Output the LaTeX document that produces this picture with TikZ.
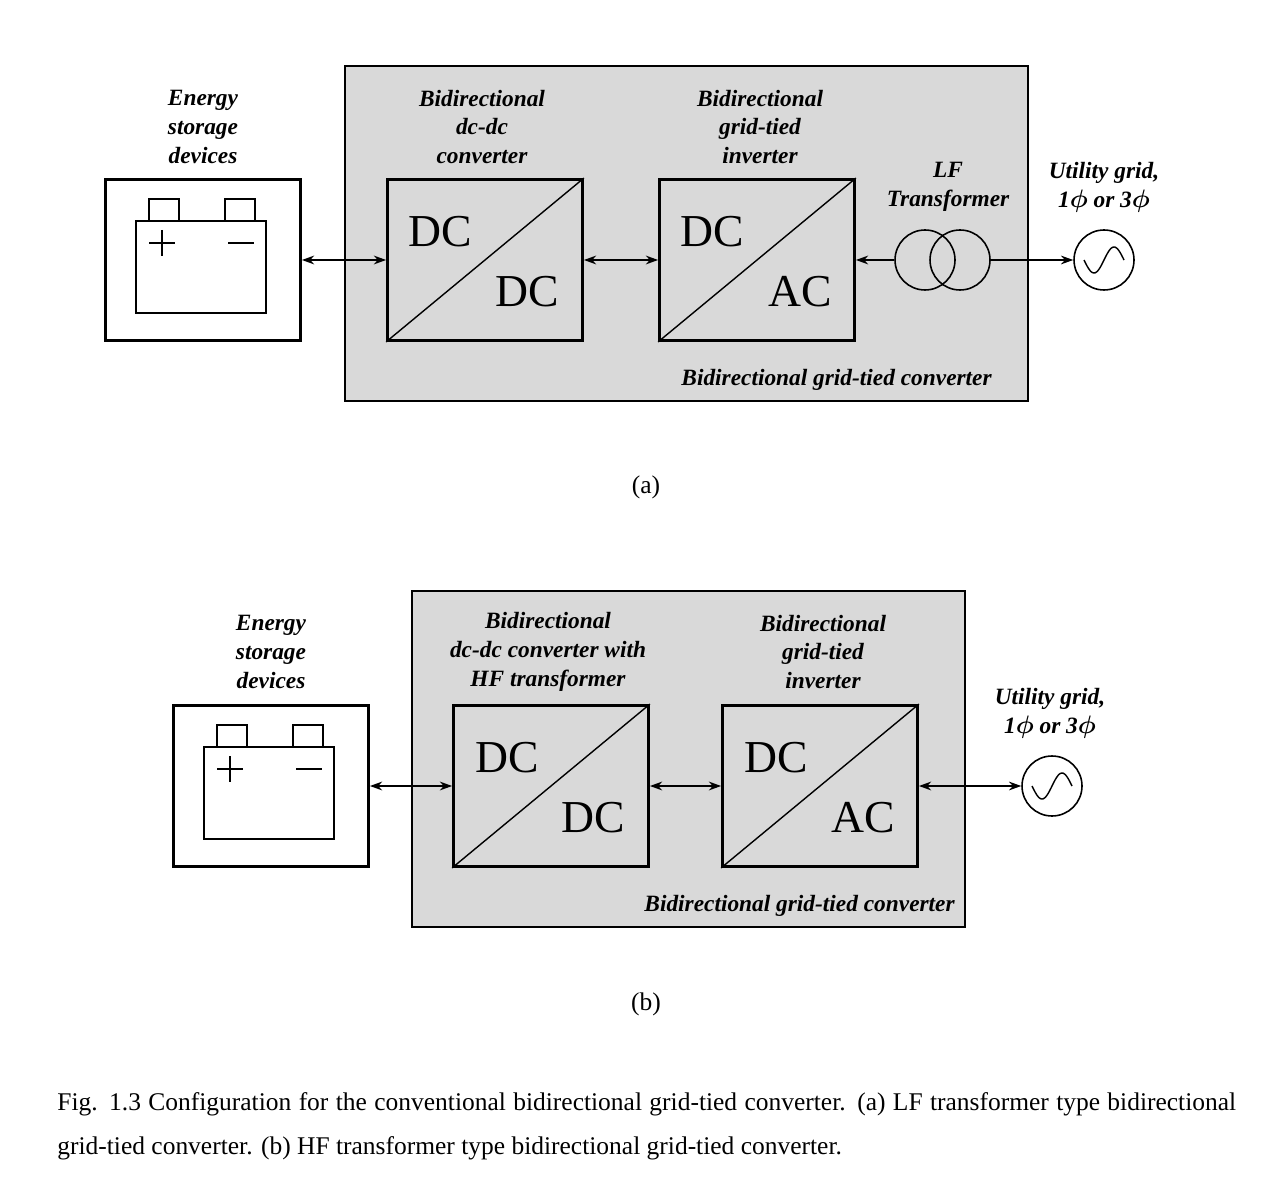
\documentclass[tikz,border=0pt]{standalone}
\usepackage{fontspec}
\setmainfont{Liberation Serif}
\usetikzlibrary{arrows.meta}

\tikzset{
  blk/.style={draw, line width=1.6pt, minimum width=3.9cm, minimum height=3.22cm, inner sep=0pt},
  lbl/.style={align=center, font=\bfseries\itshape\boldmath\fontsize{13.3}{16.4}\selectfont, inner sep=0pt},
  big/.style={font=\fontsize{26}{28}\selectfont, inner sep=0pt},
  link/.style={line width=0.8pt, {Stealth[length=7pt,width=5pt]}-{Stealth[length=7pt,width=5pt]}},
  one/.style={line width=0.8pt, -{Stealth[length=7pt,width=5pt]}},
  ring/.style={draw, circle, line width=0.9pt, minimum size=1.2cm, inner sep=0pt},
  bay/.style={fill=gray!30, draw, line width=1pt}
}

\newcommand{\batt}[2]{% centre of outer box
  \begin{scope}[shift={(#1,#2)}]
    \draw[line width=1.6pt] (-67,-39) rectangle (63,53);
    \draw[line width=1.6pt] (-54,-61) rectangle (-24,-39);
    \draw[line width=1.6pt] (22,-61) rectangle (52,-39);
    \draw[line width=0.9pt] (-54,-17) -- (-28,-17) (-41,-30) -- (-41,-4);
    \draw[line width=0.9pt] (25,-17) -- (51,-17);
  \end{scope}}
\newcommand{\wave}[2]{%
  \draw[line width=0.8pt] plot[domain=-20:20, samples=41] ({#1+\x},{#2-13*sin(\x*9)});}

\begin{document}
\begin{tikzpicture}[x=0.02cm, y=-0.02cm]
\useasboundingbox (0,0) rectangle (1280,1195);

% (a) LF transformer type
\draw[bay] (345,66) rectangle (1028,401);
\node[blk] (esA) at (203,260) {};
\batt{203}{260}
\node[blk] (dcA) at (485,260) {};
\node[blk] (inA) at (757,260) {};
\draw[line width=0.8pt] (dcA.south west) -- (dcA.north east);
\draw[line width=0.8pt] (inA.south west) -- (inA.north east);
\node[big] at (440,232) {DC};
\node[big] at (527,292) {DC};
\node[big] at (712,232) {DC};
\node[big] at (800,292) {AC};
\node[ring] (t1) at (925,260) {};
\node[ring] (t2) at (960,260) {};
\node[ring] (srcA) at (1104,260) {};
\wave{1104}{260}
\draw[link] (esA.east) -- (dcA.west);
\draw[link] (dcA.east) -- (inA.west);
\draw[one] (t1.west) -- (inA.east);
\draw[one] (t2.east) -- (srcA.west);
\node[lbl] at (203,127) {Energy\\storage\\devices};
\node[lbl] at (482,127) {Bidirectional\\dc-dc\\converter};
\node[lbl] at (760,127) {Bidirectional\\grid-tied\\inverter};
\node[lbl] at (948,187) {LF\\Transformer};
\node[lbl] at (1104,187) {Utility grid,\\1$\phi$ or 3$\phi$};
\node[lbl, anchor=east] at (992,380) {Bidirectional grid-tied converter};
\node[font=\fontsize{14.5}{16}\selectfont] at (646,487) {(a)};

% (b) HF transformer type
\draw[bay] (412,591) rectangle (965,927);
\node[blk] (esB) at (271,786) {};
\batt{271}{786}
\node[blk] (dcB) at (551,786) {};
\node[blk] (inB) at (820,786) {};
\draw[line width=0.8pt] (dcB.south west) -- (dcB.north east);
\draw[line width=0.8pt] (inB.south west) -- (inB.north east);
\node[big] at (507,758) {DC};
\node[big] at (593,818) {DC};
\node[big] at (776,758) {DC};
\node[big] at (863,818) {AC};
\node[ring] (srcB) at (1052,786) {};
\wave{1052}{786}
\draw[link] (esB.east) -- (dcB.west);
\draw[link] (dcB.east) -- (inB.west);
\draw[link] (inB.east) -- (srcB.west);
\node[lbl] at (271,652) {Energy\\storage\\devices};
\node[lbl] at (548,652) {Bidirectional\\dc-dc converter with\\HF transformer};
\node[lbl] at (823,652) {Bidirectional\\grid-tied\\inverter};
\node[lbl] at (1050,713) {Utility grid,\\1$\phi$ or 3$\phi$};
\node[lbl, anchor=east] at (955,906) {Bidirectional grid-tied converter};
\node[font=\fontsize{14.5}{16}\selectfont] at (646,1004) {(b)};

% caption
\node[anchor=north west, text width=23.58cm, align=justify, inner sep=0pt,
  font=\fontsize{14.5}{25}\selectfont] (cap) at (57,1092)
  {Fig. 1.3 Configuration for the conventional bidirectional grid-tied converter. (a) LF transformer type bidirectional grid-tied converter. (b) HF transformer type bidirectional grid-tied converter.};
\end{tikzpicture}
\end{document}
